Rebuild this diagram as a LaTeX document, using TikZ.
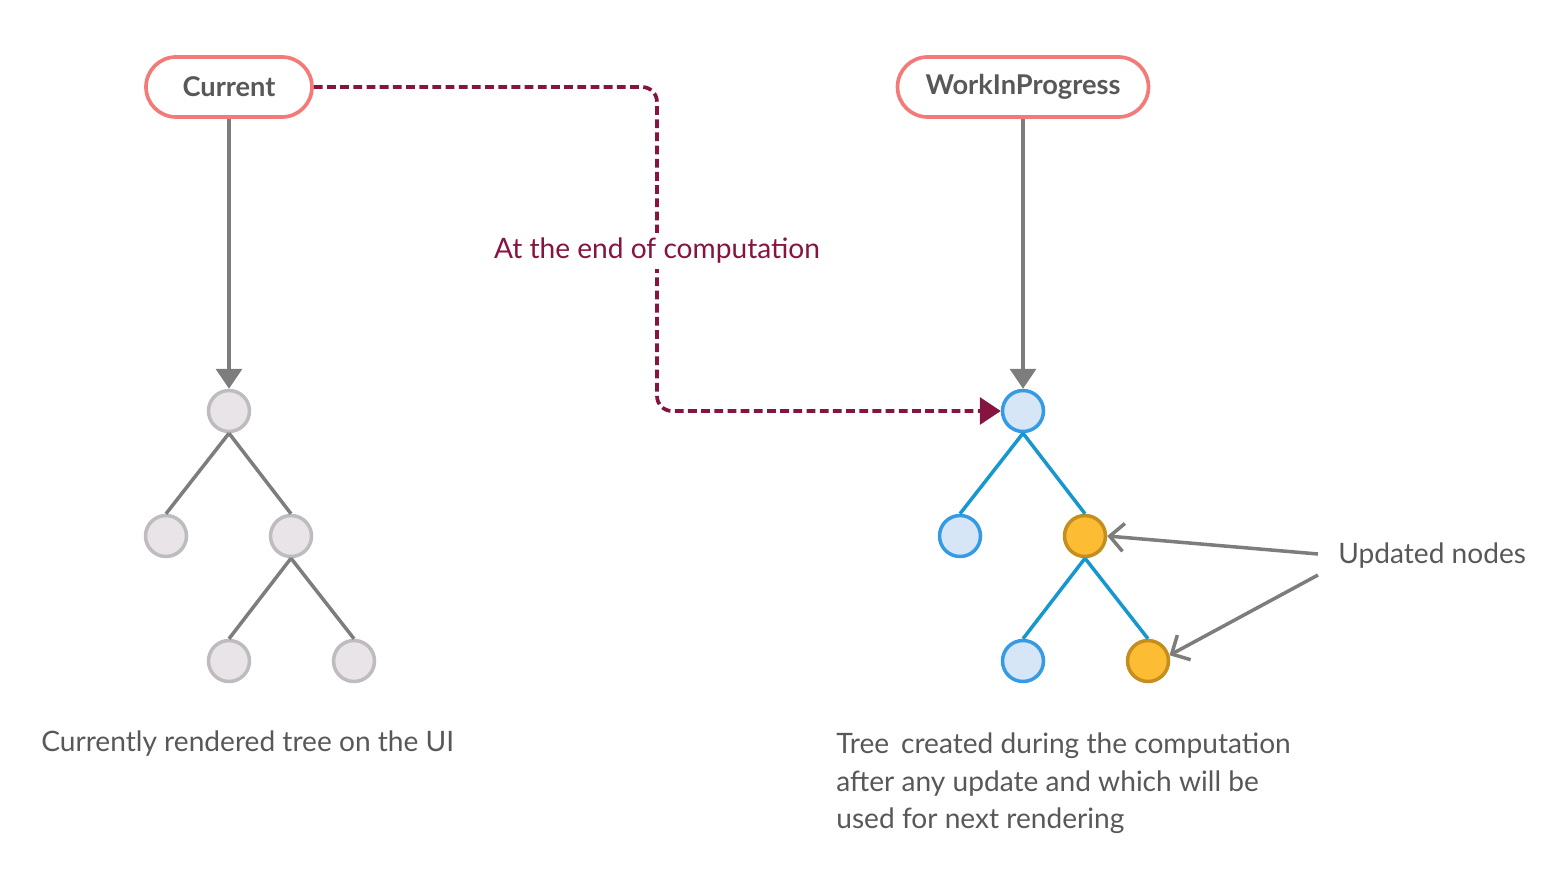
\documentclass[tikz,border=0pt]{standalone}
\usepackage{fontspec}
\setmainfont{Lato}
\usepackage{tikz}
\usetikzlibrary{arrows.meta}

\definecolor{coral}{RGB}{244,122,122}
\definecolor{txtgray}{RGB}{88,88,88}
\definecolor{ptrgray}{RGB}{125,125,125}
\definecolor{maroon}{RGB}{134,20,64}
\definecolor{oldfill}{RGB}{232,228,232}
\definecolor{olddraw}{RGB}{190,188,190}
\definecolor{newfill}{RGB}{214,230,247}
\definecolor{newdraw}{RGB}{52,155,228}
\definecolor{newedge}{RGB}{24,151,207}
\definecolor{updfill}{RGB}{252,188,51}
\definecolor{upddraw}{RGB}{196,143,30}

\begin{document}
\begin{tikzpicture}[x=0.02cm,y=-0.02cm,
  root/.style={rectangle,draw=coral,line width=2.1pt,rounded corners=0.6cm,
    minimum height=1.2cm,text=txtgray,
    font=\fontsize{15.5}{18}\selectfont\bfseries},
  oldnd/.style={circle,draw=olddraw,fill=oldfill,line width=2pt,minimum size=0.82cm,inner sep=0pt},
  newnd/.style={circle,draw=newdraw,fill=newfill,line width=2pt,minimum size=0.82cm,inner sep=0pt},
  updnd/.style={circle,draw=upddraw,fill=updfill,line width=2pt,minimum size=0.82cm,inner sep=0pt},
  oldedge/.style={draw=ptrgray,line width=2pt},
  newlink/.style={draw=newedge,line width=2pt},
  ptr/.style={draw=ptrgray,line width=2.1pt,-{Triangle[length=0.4cm,width=0.52cm]}},
  swap/.style={draw=maroon,line width=2.1pt,dash pattern=on 5pt off 2.5pt,rounded corners=0.3cm,
    -{Triangle[length=0.42cm,width=0.54cm]}},
  note/.style={draw=ptrgray,line width=2pt,-{Straight Barb[length=0.28cm,width=0.56cm]}},
  lbl/.style={text=txtgray,font=\fontsize{16}{21.6}\selectfont,inner sep=0pt}]
\useasboundingbox (0,0) rectangle (1568,882);

% pointers
\node[root,minimum width=3.32cm] (cur) at (229,87) {Current};
\node[root,minimum width=5.02cm] (wip) at (1023,87) {WorkInProgress};

% tree on the UI
\node[oldnd] (o1) at (229,411) {};
\node[oldnd] (o2) at (166,536) {};
\node[oldnd] (o3) at (291,536) {};
\node[oldnd] (o4) at (229,661) {};
\node[oldnd] (o5) at (354,661) {};
\foreach \a/\b in {o1/o2,o1/o3,o3/o4,o3/o5}
  \draw[oldedge] (\a.south) -- (\b.north);

% tree being built
\node[newnd] (n1) at (1023,411) {};
\node[newnd] (n2) at (960,536) {};
\node[updnd] (n3) at (1085,536) {};
\node[newnd] (n4) at (1023,661) {};
\node[updnd] (n5) at (1148,661) {};
\foreach \a/\b in {n1/n2,n1/n3,n3/n4,n3/n5}
  \draw[newlink] (\a.south) -- (\b.north);

\draw[ptr] (cur) -- (o1);
\draw[ptr] (wip) -- (n1);

% swap at the end
\coordinate (mid) at (657,251);
\draw[swap] (cur.east) -| (mid) |- (n1.west);
\node[text=maroon,fill=white,font=\fontsize{16}{18}\selectfont,inner sep=3pt] (endlbl) at (mid) {At the end of computation};

% updated nodes
\node[lbl,anchor=west] (upd) at (1338,556) {Updated nodes};
\coordinate (u1) at (1318,554);
\coordinate (u2) at (1318,575);
\draw[note] (u1) -- (n3.east);
\draw[note] (u2) -- (n5.15);

% captions
\node[lbl,anchor=west] (capold) at (41,744) {Currently rendered tree on the UI};
\node[lbl,anchor=north west,align=left] (capnew) at (836,732)
  {Tree\, created during the computation\\after any update and which will be\\used for next rendering};
\end{tikzpicture}
\end{document}
